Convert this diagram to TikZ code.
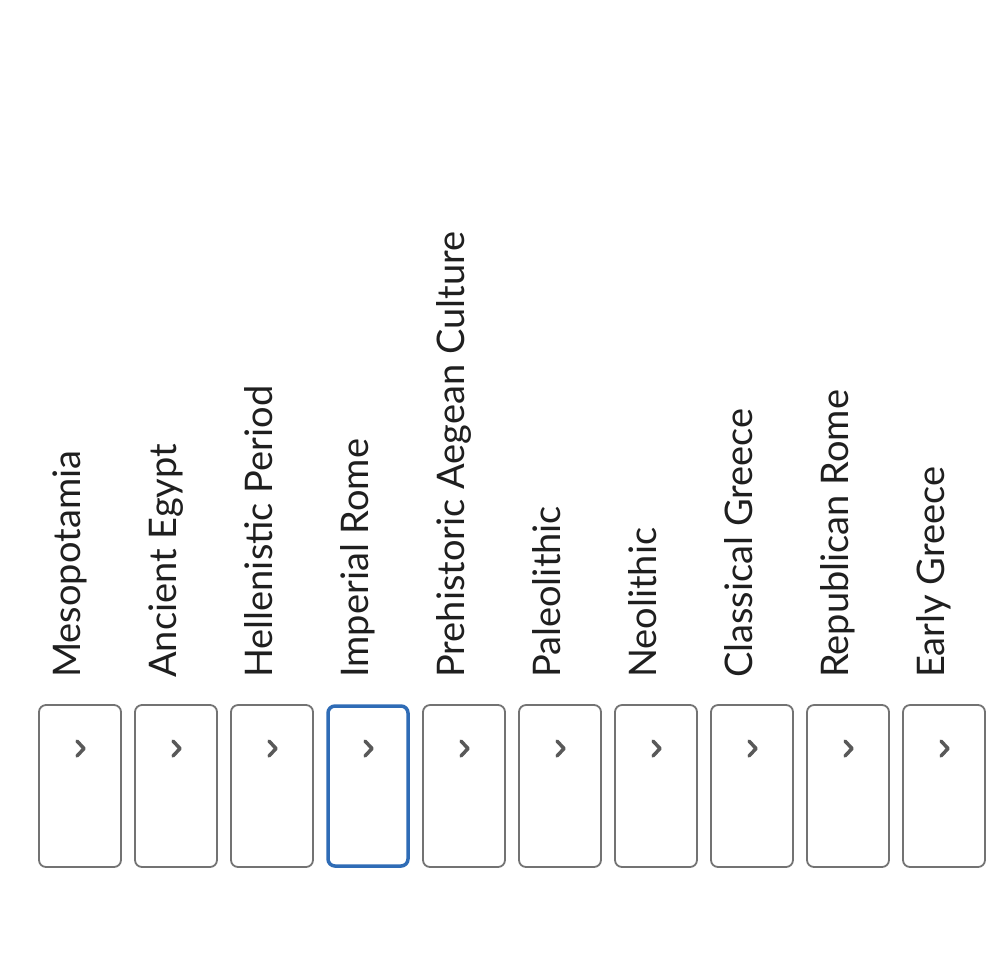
\documentclass[tikz,border=0pt]{standalone}
\usepackage{fontspec}
\setmainfont{Lato}
\begin{document}
\begin{tikzpicture}[x=1pt,y=-1pt,
  lab/.style={rotate=90,anchor=base west,inner sep=0pt,font=\fontsize{38}{40}\selectfont,text=black!88},
  card/.style={draw=black!55,line width=1.8pt,rounded corners=7pt,fill=white},
  sel/.style={draw=blue!55!black!80!cyan,line width=3.5pt,rounded corners=7pt}]
\useasboundingbox (0,0) rectangle (1008,954);
\foreach \t [count=\i from 0] in {Mesopotamia,Ancient Egypt,Hellenistic Period,Imperial Rome,Prehistoric Aegean Culture,Paleolithic,Neolithic,Classical Greece,Republican Rome,Early Greece}{
  \pgfmathsetmacro{\cx}{80+96*\i}
  \node[lab] (l\i) at (\cx,678) {\t};
  \ifnum\i=3
    \draw[sel,draw={rgb,255:red,47;green,108;blue,182}] (\cx-40,706) rectangle (\cx+40,866) coordinate (b\i);
  \else
    \draw[card] (\cx-41,705) rectangle (\cx+41,867) coordinate (b\i);
  \fi
  \draw[black!65,line width=3.5pt,line cap=round,line join=round] (\cx-3,741) -- (\cx+4,748.5) -- (\cx-3,756);
}
\end{tikzpicture}
\end{document}
